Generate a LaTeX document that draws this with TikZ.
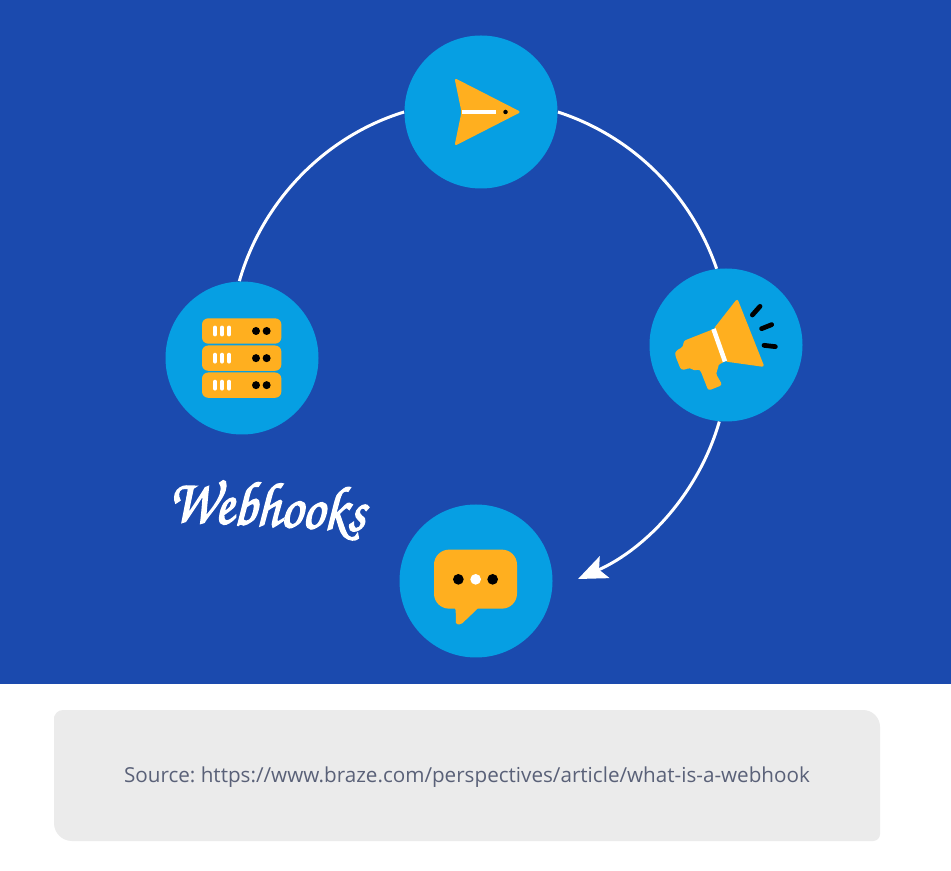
\documentclass[tikz,border=0pt]{standalone}
\usepackage[T1]{fontenc}
\usepackage{fontspec}
\setsansfont{Open Sans}
\usepackage{xcolor}
\usepackage{tikz}
\usetikzlibrary{arrows, arrows.meta, backgrounds}

\definecolor{bandblue}{HTML}{1B4AAE}
\definecolor{hubblue}{HTML}{069FE3}
\definecolor{iconorange}{HTML}{FFAF1F}
\definecolor{panelgray}{HTML}{EBEBEB}
\definecolor{sourcegray}{HTML}{5A6178}

\tikzset{
  hubnode/.style={circle,fill=hubblue,minimum size=3.06cm,inner sep=0pt},
  ringline/.style={draw=white,line width=1.7pt},
  whitebar/.style={white,line width=2.2pt,line cap=round},
  blackray/.style={black,line width=2.7pt,line cap=round}
}

\begin{document}
\begin{tikzpicture}
\useasboundingbox (0,0) rectangle (19.02,17.4);

\begin{scope}[on background layer]
\fill[white] (0,0) rectangle (19.02,17.4);
\fill[bandblue] (0,3.72) rectangle (19.02,17.4);
\end{scope}

\node[hubnode] (send) at (9.62,15.16) {};
\node[hubnode] (alert) at (14.52,10.5) {};
\node[hubnode] (server) at (4.84,10.24) {};
\node[hubnode] (chat) at (9.52,5.78) {};
\coordinate (tip) at (11.56,5.82);

%ring, under the circles
\begin{scope}[on background layer]
\draw[ringline] (server.92) to[out=74,in=197,looseness=.9] (send.west);
\draw[ringline] (send.east) to[out=-18,in=109,looseness=.9] (alert.97);
\draw[ringline,-{Stealth[length=16.5pt,width=13.5pt,inset=3.4pt]}] (alert.265) to[out=-106,in=24,looseness=.9] (tip);
\end{scope}

%send icon
\fill[iconorange,rounded corners=1.5pt] (10.42,15.16)--(9.09,15.84)--(9.23,15.16)--(9.09,14.48)--cycle;
\draw[white,line width=2.4pt] (9.23,15.16) -- (9.92,15.16);
\fill[black] (10.11,15.16) circle (.045);

%megaphone icon
\fill[iconorange,rounded corners=1.5pt] (14.747,11.43)--(15.29,10.06)--(14.5,10.17)--(14.27,10.82)--cycle;
\fill[iconorange,rounded corners=1.5pt] (14.3,10.83)--(13.667,10.58)--(13.667,10.467)--(13.513,10.38)--(13.5,10.3)--(13.62,10)--(13.733,10.013)--(13.8,10.053)--(13.867,9.987)--(14,10.013)--(14.167,9.587)--(14.447,9.7)--(14.313,9.933)--(14.367,10.033)--(14.353,10.1)--(14.5,10.17)--cycle;
\draw[white,line width=2.6pt] (14.27,10.82) -- (14.5,10.17);
\draw[blackray] (15.047,11.1) -- (15.2,11.273);
\draw[blackray] (15.233,10.827) -- (15.433,10.907);
\draw[blackray] (15.28,10.493) -- (15.507,10.467);

%server icon
\foreach \y in {10.78,10.237,9.697}{
  \fill[iconorange,rounded corners=3.5pt] (4.04,\y-.253) rectangle (5.627,\y+.253);
  \foreach \x in {4.3,4.44,4.58}
    \draw[whitebar] (\x,\y-.07) -- (\x,\y+.07);
  \fill[black] (5.12,\y) circle (.08);
  \fill[black] (5.333,\y) circle (.08);
}

%chat icon
\fill[iconorange,rounded corners=.3cm] (8.68,5.227) rectangle (10.34,6.407);
\fill[iconorange,rounded corners=1pt] (9.05,5.3)--(9.113,5.227)--(9.12,4.91)--(9.22,4.91)--(9.553,5.227)--(9.6,5.3)--cycle;
\fill[black] (9.167,5.813) circle (.107);
\fill[white] (9.513,5.813) circle (.107);
\fill[black] (9.853,5.813) circle (.107);

\node[white,rotate=-3,xscale=.86,inner sep=0pt] (title) at (5.34,7.22) {\special{pdf:code q 2 Tr 0.9 w}\usefont{T1}{pzc}{mb}{it}\fontsize{36pt}{36pt}\selectfont Webhooks\special{pdf:code Q}};

%source panel
\fill[panelgray] (1.08,2.9) [rounded corners=.36cm] -- (1.08,.58) [rounded corners=.14cm] -- (17.6,.58) [rounded corners=.34cm] -- (17.6,3.2) [rounded corners=.18cm] -- (1.08,3.2) -- cycle;
\node[sourcegray,font=\sffamily\fontsize{11.75pt}{13pt}\selectfont,inner sep=0pt] (source) at (9.34,1.86) {\frenchspacing Source: https://www.braze.com/perspectives/article/what-is-a-webhook};
\end{tikzpicture}
\end{document}
